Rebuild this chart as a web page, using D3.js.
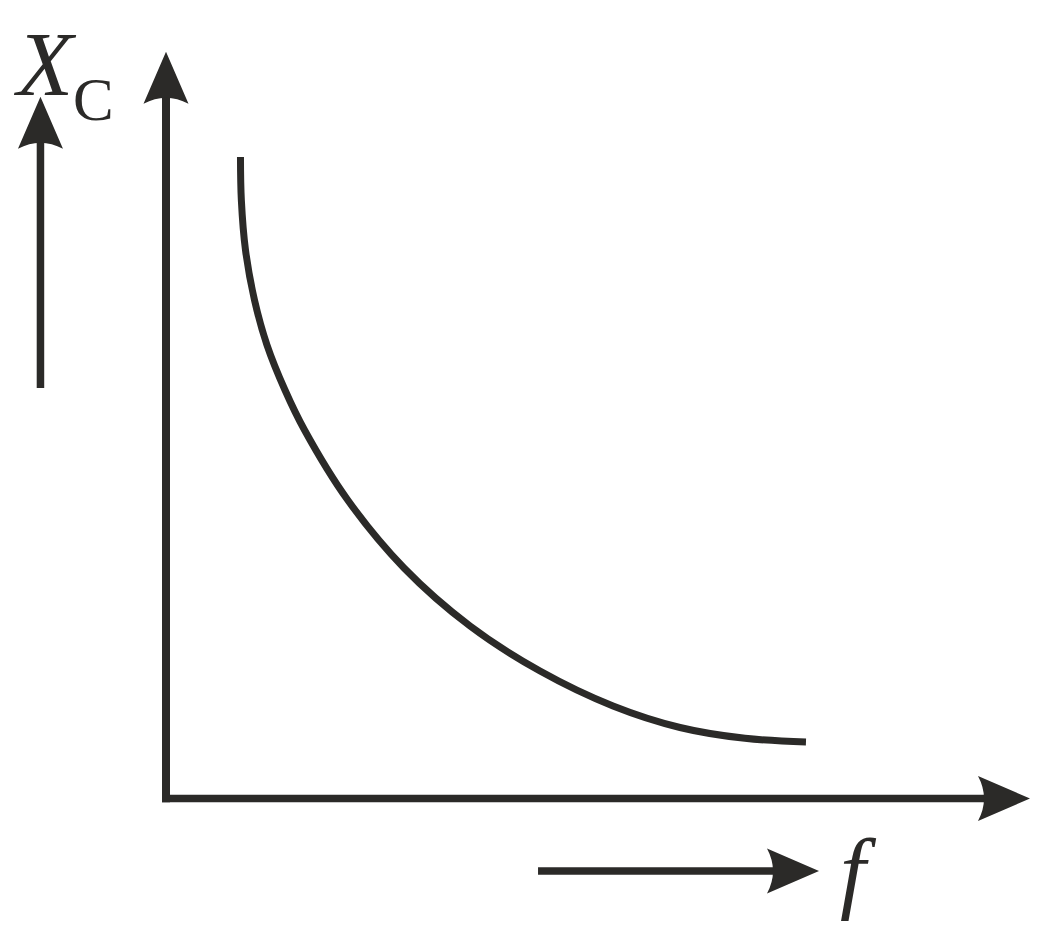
<!doctype html>
<html lang="en">
  <head>
    <meta charset="utf-8">
    <title>Xc vs f</title>
    <script src="https://d3js.org/d3.v7.min.js"></script>
    <style>
      html, body { margin: 0; padding: 0; background: #fff; }
      svg { display: block; }
    </style>
  </head>
  <body>
    <div id="chart"></div>
    <script>
      // curve (arbitrary units, axes run 0..10)
      var freq = [0.862, 0.872, 0.920, 1.024, 1.169, 1.377, 1.603, 2.101, 2.755, 3.519,
                  4.329, 5.174, 5.949, 6.701, 7.407];
      var reactance = [8.590, 8.014, 7.345, 6.675, 6.072, 5.470, 4.934, 4.000, 3.087, 2.310,
                       1.707, 1.239, 0.951, 0.806, 0.757];

      // axis extents and the two "increasing" indicator arrows, same units
      var fDomain = [0, 10];
      var xcDomain = [0, 10];
      var fArrow = {from: 4.306, to: 7.558, at: -0.971};
      var xcArrow = {from: 5.497, to: 9.398, at: -1.453};

      var width = 1048, height = 952;
      var ink = "#2b2a28";
      var serif = "'Liberation Serif', Tinos, 'Nimbus Roman', FreeSerif, 'Noto Serif', 'DejaVu Serif', 'Times New Roman', serif";

      var svg = d3.select("#chart")
        .append("svg")
          .attr("width", width)
          .attr("height", height);

      var x = d3.scaleLinear().domain(fDomain).range([166, 1030]);
      var y = d3.scaleLinear().domain(xcDomain).range([798.5, 51.7]);

      // arrow: shaft plus a head with a slightly hollow back
      function arrow(x1, y1, x2, y2, sw) {
        var len = 52, half = 22.5, notch = 6;
        var a = Math.atan2(y2 - y1, x2 - x1);
        var ux = Math.cos(a), uy = Math.sin(a);
        var bx = x2 - ux * len, by = y2 - uy * len;
        svg.append("line")
            .attr("x1", x1).attr("y1", y1)
            .attr("x2", bx + ux * 8).attr("y2", by + uy * 8)
            .attr("stroke", ink)
            .attr("stroke-width", sw);
        var p = d3.path();
        p.moveTo(x2, y2);
        p.lineTo(bx - uy * half, by + ux * half);
        p.quadraticCurveTo(bx + ux * notch * 2, by + uy * notch * 2, bx + uy * half, by - ux * half);
        p.closePath();
        svg.append("path").attr("d", p.toString()).attr("fill", ink);
      }

      // axes
      arrow(x(0) - 4, y(0), x(fDomain[1]), y(0), 7.5);
      arrow(x(0), y(0) + 3.75, x(0), y(xcDomain[1]), 8);

      // indicator arrows
      arrow(x(fArrow.from), y(fArrow.at), x(fArrow.to), y(fArrow.at), 7.5);
      arrow(x(xcArrow.at), y(xcArrow.from), x(xcArrow.at), y(xcArrow.to), 7.5);

      // the curve
      var pts = freq.map(function(f, i) { return [f, reactance[i]]; });
      var line = d3.line()
          .x(function(d) { return x(d[0]); })
          .y(function(d) { return y(d[1]); })
          .curve(d3.curveCatmullRom.alpha(0.5));
      svg.append("path")
          .datum(pts)
          .attr("d", line)
          .attr("fill", "none")
          .attr("stroke", ink)
          .attr("stroke-width", 7);

      // labels
      var xl = svg.append("text")
          .attr("font-family", serif)
          .attr("fill", ink)
          .attr("x", 17).attr("y", 95);
      xl.append("tspan").attr("font-style", "italic").attr("font-size", 92).text("X");
      xl.append("tspan").attr("x", 73).attr("y", 120).attr("font-size", 61).text("C");

      svg.append("text")
          .attr("font-family", serif)
          .attr("fill", ink)
          .attr("x", 840)
          .attr("y", 902)
          .attr("font-style", "italic")
          .attr("font-size", 92)
          .text("f");
    </script>
  </body>
</html>
